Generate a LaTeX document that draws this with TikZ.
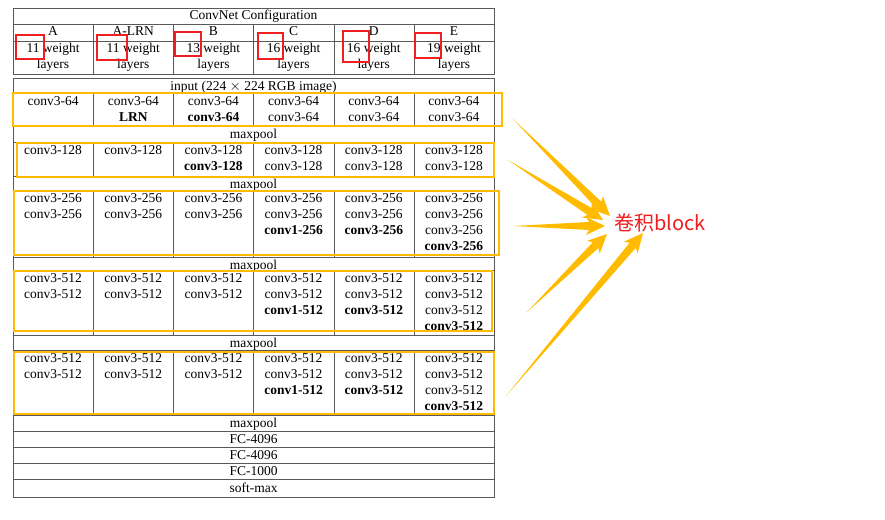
\documentclass[tikz,border=0pt]{standalone}
\usepackage{fontspec}
\setmainfont{Liberation Serif}
\newfontfamily\cjk{Noto Sans CJK SC}
\usetikzlibrary{calc}
\definecolor{og}{RGB}{255,187,0}
\definecolor{rd}{RGB}{240,30,30}
\tikzset{grid/.style={draw=black!65,line width=0.8pt},
 cell/.style={inner sep=0pt,align=center,font=\fontsize{13.5}{16}\selectfont,anchor=north,yshift=-3pt},
 obox/.style={draw=og,line width=2.2pt},
 rbox/.style={draw=rd,line width=2pt}}
\newcommand\fatarrow[2]{\fill[og] (#1) -- ($(#2)!16pt!(#1)!4pt!90:(#1)$) -- ($(#2)!19pt!(#1)!9pt!90:(#1)$) -- (#2) -- ($(#2)!19pt!(#1)!9pt!-90:(#1)$) -- ($(#2)!16pt!(#1)!4pt!-90:(#1)$) -- cycle;}
\begin{document}
\begin{tikzpicture}[x=1pt,y=-1pt]
\useasboundingbox (0,0) rectangle (885,519);
\fill[white] (0,0) rectangle (885,519);
% header table
\draw[grid] (13,8) rectangle (494,74);
\draw[grid] (13,24) -- (494,24);
\draw[grid] (13,41) -- (494,41);
\foreach \x in {93,173,253,334,414} \draw[grid] (\x,24) -- (\x,74);
\node[cell] (title) at (253.5,7) {ConvNet Configuration};
\foreach \n [count=\i] in {A,A-LRN,B,C,D,E}
  \node[cell] (h\i) at ({13+80.17*(\i-0.5)},23) {\n};
\foreach \n [count=\i] in {11,11,13,16,16,19}
  \node[cell] (w\i) at ({13+80.17*(\i-0.5)},40) {\n\ weight\\layers};
% main table
\draw[grid] (13,78) rectangle (494,497);
\foreach \y in {93,126,142,176,190,257,270,335,350,415,431,447,463,479}
  \draw[grid] (13,\y) -- (494,\y);
\foreach \a/\b in {93/126,142/176,190/257,270/335,350/415}
  \foreach \x in {93,173,253,334,414} \draw[grid] (\x,\a) -- (\x,\b);
\node[cell] (inp) at (253.5,77.5) {input (224 $\times$ 224 RGB image)};
\foreach \y [count=\i] in {126,176,257,335,415}
  \node[cell] (mp\i) at (253.5,\y) {maxpool};
\node[cell] (fc1) at (253.5,431) {FC-4096};
\node[cell] (fc2) at (253.5,447) {FC-4096};
\node[cell] (fc3) at (253.5,463) {FC-1000};
\node[cell] (sm) at (253.5,479.5) {soft-max};
% blocks
\foreach \t [count=\i] in {{conv3-64},{conv3-64\\\textbf{LRN}},{conv3-64\\\textbf{conv3-64}},{conv3-64\\conv3-64},{conv3-64\\conv3-64},{conv3-64\\conv3-64}}
  \node[cell] (ba\i) at ({13+80.17*(\i-0.5)},93.5) {\t};
\foreach \t [count=\i] in {{conv3-128},{conv3-128},{conv3-128\\\textbf{conv3-128}},{conv3-128\\conv3-128},{conv3-128\\conv3-128},{conv3-128\\conv3-128}}
  \node[cell] (bb\i) at ({13+80.17*(\i-0.5)},142) {\t};
\foreach \t [count=\i] in {{conv3-256\\conv3-256},{conv3-256\\conv3-256},{conv3-256\\conv3-256},{conv3-256\\conv3-256\\\textbf{conv1-256}},{conv3-256\\conv3-256\\\textbf{conv3-256}},{conv3-256\\conv3-256\\conv3-256\\\textbf{conv3-256}}}
  \node[cell] (bc\i) at ({13+80.17*(\i-0.5)},190.5) {\t};
\foreach \t [count=\i] in {{conv3-512\\conv3-512},{conv3-512\\conv3-512},{conv3-512\\conv3-512},{conv3-512\\conv3-512\\\textbf{conv1-512}},{conv3-512\\conv3-512\\\textbf{conv3-512}},{conv3-512\\conv3-512\\conv3-512\\\textbf{conv3-512}}}
  \node[cell] (bd\i) at ({13+80.17*(\i-0.5)},270) {\t};
\foreach \t [count=\i] in {{conv3-512\\conv3-512},{conv3-512\\conv3-512},{conv3-512\\conv3-512},{conv3-512\\conv3-512\\\textbf{conv1-512}},{conv3-512\\conv3-512\\\textbf{conv3-512}},{conv3-512\\conv3-512\\conv3-512\\\textbf{conv3-512}}}
  \node[cell] (be\i) at ({13+80.17*(\i-0.5)},350) {\t};
% highlight boxes
\draw[obox] (13,93) rectangle (502,126);
\draw[obox] (17,143) rectangle (494,177);
\draw[obox] (14,191) rectangle (499,255);
\draw[obox] (14,271) rectangle (492,331);
\draw[obox] (14,352) rectangle (494,414);
\draw[rbox] (16,35) rectangle (44,59);
\draw[rbox] (97,35) rectangle (127,60);
\draw[rbox] (175,32) rectangle (201,56);
\draw[rbox] (258,33) rectangle (283,59);
\draw[rbox] (343,31) rectangle (369,62);
\draw[rbox] (415,33) rectangle (441,58);
% arrows
\node[text=rd,font=\cjk\fontsize{20}{22}\selectfont,inner sep=0pt] (lbl) at (660,223) {卷积block};
\coordinate (t1) at (513,119); \coordinate (e1) at (610,216);
\coordinate (t2) at (508,160); \coordinate (e2) at (603,220);
\coordinate (t3) at (513,226); \coordinate (e3) at (605,226);
\coordinate (t4) at (527,312); \coordinate (e4) at (607,234);
\coordinate (t5) at (506,396); \coordinate (e5) at (643,233);
\foreach \i in {1,...,5} {\fatarrow{t\i}{e\i}}
\end{tikzpicture}
\end{document}
